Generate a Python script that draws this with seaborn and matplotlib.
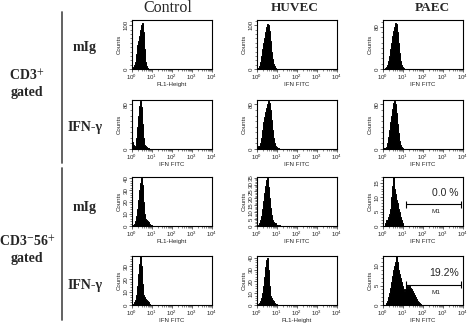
import numpy as np
import pandas as pd
import matplotlib
matplotlib.use("Agg")
import matplotlib.pyplot as plt
from matplotlib.lines import Line2D
from matplotlib.ticker import FixedLocator, MultipleLocator, NullFormatter
import seaborn as sns

# ---- data -------------------------------------------------------------
# Column / row headings
columns = ["Control", "HUVEC", "PAEC"]
column_bold = [False, True, True]
stim_labels = ["mIg", "IFN-\u03b3", "mIg", "IFN-\u03b3"]
gate_labels = [r"CD3$^{+}$" + "\ngated", r"CD3$^{-}$56$^{+}$" + "\ngated"]

# Histogram counts per channel bin (log10 fluorescence, bins 0.05 decades wide,
# first bin starting at 10^0)
BIN_W = 0.05

cd3_mig_control = [2, 5, 10, 15, 35, 55, 65, 75, 90, 100, 106, 85, 45, 15, 6, 3, 1]
cd3_mig_huvec = [0, 2, 6, 15, 30, 45, 60, 72, 85, 95, 104, 100, 88, 65, 40, 22, 12, 6, 3, 1, 1]
cd3_mig_paec = [0, 0, 1, 3, 8, 15, 25, 38, 50, 62, 72, 80, 88, 85, 70, 50, 30, 15, 7, 3, 1]

cd3_ifn_control = [12, 8, 4, 6, 20, 40, 60, 78, 87, 75, 45, 20, 8, 5, 3, 2, 1]
cd3_ifn_huvec = [4, 5, 6, 10, 20, 35, 48, 58, 66, 74, 80, 86, 82, 70, 52, 35, 20, 10, 5, 3, 2, 1]
cd3_ifn_paec = [1, 1, 2, 4, 10, 22, 35, 48, 60, 72, 82, 86, 80, 65, 45, 28, 15, 8, 3, 1]

nk_mig_control = [0, 1, 2, 4, 8, 14, 22, 30, 36, 40, 34, 20, 10, 6, 5, 4, 3, 2, 1, 1]
nk_mig_huvec = [0, 1, 2, 4, 7, 12, 18, 24, 29, 33, 35, 28, 20, 13, 8, 4, 3, 2, 2, 1, 1, 0, 1]
nk_mig_paec = [0, 0, 1, 2, 2, 3, 4, 6, 10, 14, 17, 13, 11, 9, 8, 6, 5, 3, 2, 1]

nk_ifn_control = [0, 1, 2, 4, 8, 15, 24, 32, 38, 30, 16, 8, 6, 5, 4, 3, 2, 1]
nk_ifn_huvec = [0, 1, 2, 3, 6, 10, 16, 24, 32, 38, 40, 30, 16, 8, 6, 4, 3, 2, 1, 1]
nk_ifn_paec = [0, 0, 0, 0.5, 1, 2, 3, 4.5, 6, 7.5, 9, 10, 11, 12.6, 11, 9, 8, 7, 6, 5,
               4, 3.5, 4, 4.5, 5, 4.5, 5, 4.5, 4, 3.5, 3, 2.5, 2, 1.5, 1, 0.7, 0.4, 0.2]

panel_counts = [
    [cd3_mig_control, cd3_mig_huvec, cd3_mig_paec],
    [cd3_ifn_control, cd3_ifn_huvec, cd3_ifn_paec],
    [nk_mig_control, nk_mig_huvec, nk_mig_paec],
    [nk_ifn_control, nk_ifn_huvec, nk_ifn_paec],
]

# Axis settings per panel
y_max = [
    [112, 112, 93],
    [88, 88, 88],
    [41, 35.5, 17],
    [38, 41.5, 12.6],
]
y_ticks = [
    [[0, 100], [0, 100], [0, 80]],
    [[0, 80], [0, 80], [0, 80]],
    [[0, 10, 20, 30, 40], [0, 5, 10, 15, 20, 25, 30, 35], [0, 5, 10, 15]],
    [[0, 10, 20, 30], [0, 10, 20, 30, 40], [0, 5, 10]],
]
y_minor = [
    [10, 10, 10],
    [10, 10, 10],
    [2, 1, 1],
    [2, 2, 1],
]
x_labels = [
    ["FL1-Height", "IFN FITC", "IFN FITC"],
    ["IFN FITC", "IFN FITC", "IFN FITC"],
    ["FL1-Height", "IFN FITC", "IFN FITC"],
    ["IFN FITC", "FL1-Height", "IFN FITC"],
]

# M1 marker gates (row, col): log10 range, height, percent text
gate_panels = [(2, 2), (3, 2)]
gate_lo = [1.15, 1.15]
gate_hi = [3.9, 3.9]
gate_y = [7.5, 5.2]
gate_pct = ["0.0 %", "19.2%"]

# ---- style ------------------------------------------------------------
sns.set_style("ticks")
plt.rcParams["font.family"] = ["Liberation Sans", "DejaVu Sans"]
plt.rcParams["mathtext.fontset"] = "custom"
plt.rcParams["mathtext.rm"] = "Liberation Sans"
plt.rcParams["mathtext.it"] = "Liberation Sans:italic"
plt.rcParams["mathtext.bf"] = "Liberation Sans:bold"

W, H = 474, 323
fig = plt.figure(figsize=(W / 100, H / 100), dpi=100)
fig.patch.set_facecolor("white")

col_left = [132, 257, 383]
row_top = [20, 100, 177, 256]
ax_w, ax_h = 80, 49

serif = ["Liberation Serif", "DejaVu Serif"]

for r in range(4):
    for c in range(3):
        ax = fig.add_axes([col_left[c] / W, 1 - (row_top[r] + ax_h) / H, ax_w / W, ax_h / H])
        counts = np.asarray(panel_counts[r][c], dtype=float)
        edges = np.arange(len(counts) + 1) * BIN_W
        centers = edges[:-1] + BIN_W / 2
        df = pd.DataFrame({"channel": centers, "count": counts})
        sns.histplot(data=df, x="channel", weights="count", bins=edges.tolist(),
                     element="step", fill=True, color="black", alpha=1, linewidth=0.7,
                     ax=ax)
        ax.set_xlim(0, 4)
        ax.set_ylim(0, y_max[r][c])

        # log-decade ticks
        ax.xaxis.set_major_locator(FixedLocator([0, 1, 2, 3, 4]))
        ax.set_xticklabels([r"$10^{%d}$" % k for k in range(5)])
        minor = [k + np.log10(m) for k in range(4) for m in range(2, 10)]
        ax.xaxis.set_minor_locator(FixedLocator(minor))
        ax.yaxis.set_major_locator(FixedLocator(y_ticks[r][c]))
        ax.yaxis.set_minor_locator(MultipleLocator(y_minor[r][c]))
        ax.yaxis.set_minor_formatter(NullFormatter())
        ax.set_yticklabels([str(v) for v in y_ticks[r][c]], rotation=90, va="center")

        ax.tick_params(axis="both", which="major", length=2.0, width=0.5, pad=0.5,
                       labelsize=4.4, direction="out")
        ax.tick_params(axis="both", which="minor", length=1.2, width=0.4, direction="out")
        for s in ax.spines.values():
            s.set_visible(True)
            s.set_linewidth(0.8)
            s.set_color("black")
        ax.set_xlabel(x_labels[r][c], fontsize=4.4, labelpad=0)
        ax.set_ylabel("Counts", fontsize=4.4, labelpad=1.5)
        ax.set_facecolor("white")

        if (r, c) in gate_panels:
            g = gate_panels.index((r, c))
            ymax = y_max[r][c]
            cap = ymax * 0.075
            ax.hlines(gate_y[g], gate_lo[g], gate_hi[g], color="black", lw=0.8)
            ax.vlines([gate_lo[g], gate_hi[g]], gate_y[g] - cap, gate_y[g] + cap,
                      color="black", lw=0.8)
            ax.text(gate_hi[g] - 0.1, gate_y[g] + ymax * 0.13, gate_pct[g],
                    ha="right", va="bottom", fontsize=7.5)
            ax.text((gate_lo[g] + gate_hi[g]) / 2 + 0.15, gate_y[g] - ymax * 0.1, "M1",
                    ha="center", va="top", fontsize=4.6)

# column headings
col_x = [168, 295, 432]
col_size = [11.5, 9.5, 9.5]
for name, x, bold, size in zip(columns, col_x, column_bold, col_size):
    fig.text(x / W, 1 - 8 / H, name, ha="center", va="center", fontsize=size,
             fontweight="bold" if bold else "normal", family=serif)

# row (stimulus) labels
plt.rcParams["mathtext.fontset"] = "stix"
stim_y = [48, 127, 207, 286]
for lab, y in zip(stim_labels, stim_y):
    fig.text(85 / W, 1 - y / H, lab, ha="center", va="center", fontsize=10,
             fontweight="bold", family=serif)

# gating labels
gate_y_pos = [84, 250]
for lab, y in zip(gate_labels, gate_y_pos):
    fig.text(27 / W, 1 - y / H, lab, ha="center", va="center", fontsize=10,
             fontweight="bold", family=serif, linespacing=1.35)

# separators between the gating groups
for y0, y1 in [(12, 163), (168, 320)]:
    fig.add_artist(Line2D([62 / W, 62 / W], [1 - y0 / H, 1 - y1 / H],
                          color="#555555", lw=1.3))

fig.savefig("out.png", dpi=100, facecolor="white")
